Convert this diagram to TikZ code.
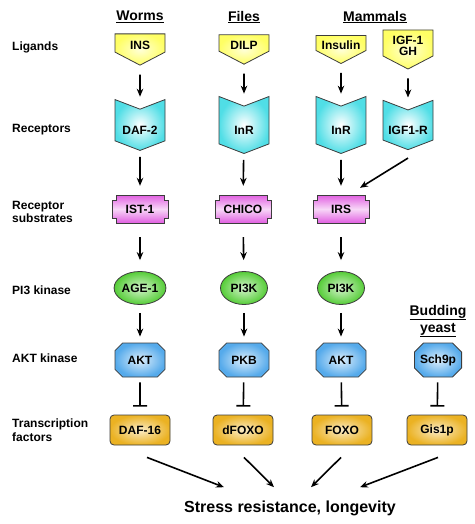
\documentclass[tikz,border=0pt]{standalone}
\usepackage{fontspec}
\setmainfont{Liberation Sans}
\usetikzlibrary{arrows.meta, shapes.symbols, shapes.geometric, shapes.misc, calc}

\definecolor{ligandyellow}{RGB}{255,255,100}
\definecolor{receptorcyan}{RGB}{80,222,230}
\definecolor{substratepink}{RGB}{225,95,225}
\definecolor{kinasegreen}{RGB}{85,205,55}
\definecolor{aktblue}{RGB}{85,170,235}
\definecolor{factorgold}{RGB}{235,178,35}
\definecolor{outline}{RGB}{60,60,60}

% notched box behind a substrate node
\newcommand{\substrate}[3]{%
  \shadedraw[subfill, shift={(#2)}] (-24,-14) -- (24,-14) -- (24,-9) -- (28,-9) -- (28,9) -- (24,9)
    -- (24,14) -- (-24,14) -- (-24,9) -- (-28,9) -- (-28,-9) -- (-24,-9) -- cycle;
  \node[substr] (#1) at (#2) {#3};}

\begin{document}
\begin{tikzpicture}
  [x=1pt, y=-1pt, >={Stealth[length=8pt,width=6.5pt]},
  every node/.style={font=\bfseries\fontsize{12}{13.5}\selectfont},
  ligand/.style={signal, signal to=south, signal pointer angle=125, minimum width=50pt, minimum height=24pt,
    inner sep=1pt, align=center, draw=outline, line width=0.8pt, inner color=ligandyellow!25, outer color=ligandyellow},
  ligtext/.style={text height=13pt, text depth=0pt},
  receptor/.style={signal, signal from=north, signal to=south, signal pointer angle=138, minimum width=50pt,
    minimum height=46pt, inner sep=1pt, text height=18.6pt, text depth=0pt,
    draw=outline, line width=0.8pt, inner color=white, outer color=receptorcyan},
  subfill/.style={draw=outline, line width=0.8pt, top color=substratepink, bottom color=substratepink,
    middle color=substratepink!25},
  substr/.style={rectangle, minimum width=56pt, minimum height=28pt, inner sep=0pt},
  kinase/.style={ellipse, minimum width=47pt, minimum height=33pt, inner sep=0pt, draw=outline, line width=0.8pt,
    inner color=kinasegreen!25, outer color=kinasegreen},
  akt/.style={chamfered rectangle, chamfered rectangle xsep=9pt, minimum width=50pt, minimum height=34pt,
    inner sep=0pt, draw=outline, line width=0.8pt, inner color=aktblue!20, outer color=aktblue},
  factor/.style={rectangle, rounded corners=4pt, minimum width=60pt, minimum height=30pt, inner sep=0pt,
    draw=outline, line width=0.8pt, inner color=factorgold!25, outer color=factorgold},
  rowlabel/.style={anchor=west, align=left, inner sep=0pt},
  header/.style={font=\bfseries\fontsize{14}{17}\selectfont, align=center, inner sep=0pt},
  activ/.style={->, line width=1.6pt},
  inhib/.style={-{Bar[width=14pt]}, line width=1.6pt}]
  \useasboundingbox (0,0) rectangle (474,524);

  % column headers
  \node[header] (worms)   at (140,17)  {\underline{Worms}};
  \node[header] (flies)   at (244,17)  {\underline{Files}};
  \node[header] (mammals) at (375,17)  {\underline{Mammals}};
  \node[header] (yeast)   at (438,321) {\underline{Budding}\\\underline{yeast}};

  % row labels
  \node[rowlabel] (lLig)  at (12,47)  {Ligands};
  \node[rowlabel] (lRec)  at (12,130) {Receptors};
  \node[rowlabel] (lSub)  at (12,212) {Receptor\\substrates};
  \node[rowlabel] (lPI3)  at (12,290) {PI3 kinase};
  \node[rowlabel] (lAKT)  at (12,358) {AKT kinase};
  \node[rowlabel] (lTF)   at (12,430) {Transcription\\factors};

  % ligands
  \node[ligand, ligtext] (INS)     at (140,43) {INS};
  \node[ligand, ligtext] (DILP)    at (244,43) {DILP};
  \node[ligand, ligtext] (Insulin) at (341,43) {Insulin};
  \node[ligand, inner sep=0pt, text height=26pt, text depth=-4pt] (IGF) at (408,43) {IGF-1\\[-2pt]GH};

  % receptors
  \node[receptor] (DAF2)   at (140,125) {DAF-2};
  \node[receptor] (InRfly) at (244,125) {InR};
  \node[receptor] (InRmam) at (341,125) {InR};
  \node[receptor] (IGF1R)  at (408,125) {IGF1-R};

  % receptor substrates
  \substrate{IST1}{140,209}{IST-1}
  \substrate{CHICO}{243,209}{CHICO}
  \substrate{IRS}{341,209}{IRS}

  % PI3 kinases
  \node[kinase] (AGE1)    at (140,288) {AGE-1};
  \node[kinase] (PI3Kfly) at (244,288) {PI3K};
  \node[kinase] (PI3Kmam) at (341,288) {PI3K};

  % AKT kinases
  \node[akt] (AKTworm) at (140,360) {AKT};
  \node[akt] (PKB)     at (244,360) {PKB};
  \node[akt] (AKTmam)  at (341,360) {AKT};
  \node[akt, minimum width=47pt] (Sch9p) at (438,360) {Sch9p};

  % transcription factors
  \node[factor] (DAF16) at (140,430) {DAF-16};
  \node[factor] (dFOXO) at (243,430) {dFOXO};
  \node[factor] (FOXO)  at (342,430) {FOXO};
  \node[factor] (Gis1p) at (437,430) {Gis1p};

  \node[font=\bfseries\fontsize{16}{18}\selectfont, anchor=base, inner xsep=2pt, inner ysep=13pt]
    (stress) at (290,512) {Stress resistance, longevity};

  \path[activ, shorten <=9pt, shorten >=12pt]
    (INS) edge (DAF2)   (DILP) edge (InRfly)
    (Insulin) edge (InRmam)   (IGF) edge (IGF1R);
  \path[activ, shorten <=6pt, shorten >=9pt]
    (DAF2) edge (IST1)   (InRfly) edge (CHICO)   (InRmam) edge (IRS);
  \path[activ] ([yshift=-8pt]IGF1R.south) edge ([xshift=19pt,yshift=7pt]IRS.north);
  \path[activ, shorten <=14pt, shorten >=11pt]
    (IST1) edge (AGE1)   (CHICO) edge (PI3Kfly)   (IRS) edge (PI3Kmam);
  \path[activ, shorten <=8pt, shorten >=6pt]
    (AGE1) edge (AKTworm)   (PI3Kfly) edge (PKB)   (PI3Kmam) edge (AKTmam);
  \path[inhib, shorten <=5pt, shorten >=8pt]
    (AKTworm) edge (DAF16)   (PKB) edge (dFOXO)   (AKTmam) edge (FOXO)   (Sch9p) edge (Gis1p);
  \path[activ]
    ([xshift=7pt,yshift=-12pt]DAF16.south) edge ([xshift=-66pt]stress.north)
    ([xshift=1pt,yshift=-12pt]dFOXO.south) edge ([xshift=-16pt]stress.north)
    ([xshift=-1pt,yshift=-12pt]FOXO.south) edge ([xshift=21pt]stress.north)
    ([xshift=1pt,yshift=-12pt]Gis1p.south) edge ([xshift=70pt]stress.north);
\end{tikzpicture}
\end{document}
